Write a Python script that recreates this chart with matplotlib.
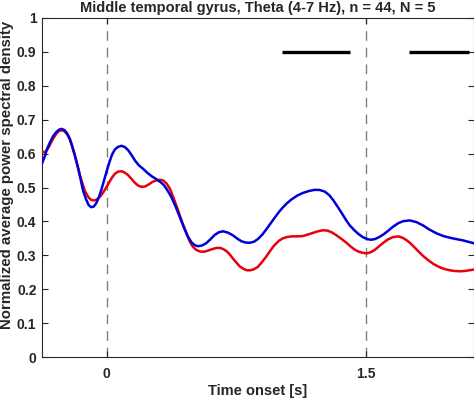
import matplotlib
matplotlib.use('Agg')
import matplotlib.pyplot as plt

plt.rcParams['font.family'] = ['Liberation Sans', 'DejaVu Sans']
plt.rcParams['font.weight'] = 'bold'

# blue curve (time [s], normalized PSD)
t_blue = [-0.375, -0.36, -0.348, -0.33, -0.31, -0.29, -0.275, -0.261, -0.245, -0.23,
          -0.215, -0.2, -0.185, -0.165, -0.15, -0.137, -0.12, -0.105, -0.09, -0.075,
          -0.06, -0.045, -0.031, -0.015, 0.0, 0.015, 0.03, 0.046, 0.065, 0.085,
          0.105, 0.125, 0.145, 0.165, 0.186, 0.21, 0.235, 0.26, 0.285, 0.31,
          0.33, 0.35, 0.373, 0.395, 0.421, 0.445, 0.469, 0.49, 0.508, 0.527,
          0.55, 0.575, 0.6, 0.623, 0.647, 0.671, 0.7, 0.729, 0.755, 0.777,
          0.8, 0.825, 0.85, 0.873, 0.9, 0.921, 0.945, 0.969, 0.995, 1.017,
          1.04, 1.065, 1.1, 1.133, 1.17, 1.2, 1.229, 1.26, 1.287, 1.31,
          1.335, 1.36, 1.383, 1.405, 1.431, 1.455, 1.479, 1.505, 1.527, 1.55,
          1.575, 1.6, 1.625, 1.656, 1.685, 1.715, 1.752, 1.79, 1.829, 1.865,
          1.906, 1.945, 1.983, 2.02, 2.06, 2.09, 2.12]
v_blue = [0.571, 0.59, 0.611, 0.632, 0.652, 0.665, 0.671, 0.673, 0.669, 0.66,
          0.645, 0.622, 0.595, 0.555, 0.52, 0.49, 0.465, 0.448, 0.442, 0.444,
          0.455, 0.473, 0.495, 0.523, 0.55, 0.575, 0.597, 0.612, 0.62, 0.623,
          0.619, 0.609, 0.594, 0.578, 0.565, 0.555, 0.543, 0.533, 0.525, 0.516,
          0.507, 0.492, 0.472, 0.447, 0.414, 0.383, 0.355, 0.338, 0.33, 0.327,
          0.329, 0.336, 0.348, 0.36, 0.368, 0.371, 0.367, 0.359, 0.349, 0.342,
          0.338, 0.337, 0.34, 0.348, 0.362, 0.376, 0.393, 0.41, 0.428, 0.441,
          0.453, 0.464, 0.476, 0.484, 0.49, 0.493, 0.493, 0.488, 0.477, 0.462,
          0.443, 0.423, 0.404, 0.388, 0.374, 0.363, 0.354, 0.348, 0.346, 0.348,
          0.354, 0.362, 0.372, 0.385, 0.395, 0.401, 0.403, 0.398, 0.388, 0.376,
          0.365, 0.357, 0.352, 0.348, 0.344, 0.34, 0.336]

# red curve
t_red = [-0.375, -0.36, -0.348, -0.33, -0.31, -0.29, -0.275, -0.261, -0.245, -0.23,
         -0.215, -0.2, -0.185, -0.17, -0.156, -0.14, -0.127, -0.11, -0.095, -0.08,
         -0.065, -0.05, -0.03, -0.012, 0.01, 0.027, 0.045, 0.065, 0.085, 0.1,
         0.12, 0.14, 0.16, 0.18, 0.2, 0.22, 0.245, 0.265, 0.285, 0.305,
         0.325, 0.345, 0.364, 0.385, 0.411, 0.435, 0.46, 0.48, 0.498, 0.517,
         0.54, 0.565, 0.59, 0.613, 0.635, 0.655, 0.675, 0.695, 0.71, 0.73,
         0.75, 0.767, 0.79, 0.81, 0.83, 0.85, 0.873, 0.895, 0.921, 0.945,
         0.969, 0.995, 1.017, 1.04, 1.07, 1.1, 1.133, 1.16, 1.19, 1.22,
         1.25, 1.275, 1.3, 1.325, 1.355, 1.383, 1.41, 1.43, 1.45, 1.475,
         1.498, 1.52, 1.546, 1.57, 1.598, 1.625, 1.655, 1.685, 1.71, 1.735,
         1.752, 1.78, 1.805, 1.829, 1.86, 1.89, 1.92, 1.95, 1.983, 2.01,
         2.041, 2.07, 2.095, 2.12]
v_red = [0.606, 0.604, 0.609, 0.625, 0.645, 0.66, 0.667, 0.669, 0.666, 0.657,
         0.643, 0.62, 0.594, 0.565, 0.537, 0.51, 0.49, 0.474, 0.465, 0.462,
         0.463, 0.468, 0.479, 0.493, 0.512, 0.527, 0.54, 0.547, 0.548, 0.545,
         0.538, 0.527, 0.515, 0.506, 0.502, 0.503, 0.51, 0.517, 0.521, 0.523,
         0.521, 0.512, 0.497, 0.47, 0.434, 0.398, 0.365, 0.34, 0.325, 0.316,
         0.311, 0.311, 0.315, 0.319, 0.322, 0.322, 0.318, 0.311, 0.303, 0.29,
         0.278, 0.268, 0.26, 0.256, 0.256, 0.259, 0.266, 0.279, 0.296, 0.314,
         0.33, 0.343, 0.35, 0.354, 0.356, 0.356, 0.357, 0.361, 0.366, 0.371,
         0.374, 0.373, 0.368, 0.36, 0.349, 0.338, 0.326, 0.318, 0.312, 0.308,
         0.306, 0.308, 0.315, 0.325, 0.337, 0.347, 0.354, 0.356, 0.352, 0.344,
         0.337, 0.323, 0.31, 0.298, 0.285, 0.274, 0.266, 0.26, 0.256, 0.254,
         0.253, 0.254, 0.256, 0.258]

# significance bars
sig_start = [1.01, 1.748]
sig_end = [1.408, 2.095]
sig_level = 0.9

events = [0, 1.5]
xticks = [0, 1.5]
xticklabels = ['0', '1.5']
yticks = [0, 0.1, 0.2, 0.3, 0.4, 0.5, 0.6, 0.7, 0.8, 0.9, 1]
yticklabels = ['0', '0.1', '0.2', '0.3', '0.4', '0.5', '0.6', '0.7', '0.8', '0.9', '1']

fig = plt.figure(figsize=(4.74, 3.99), dpi=100)
ax = fig.add_axes([0.0886, 0.105, 0.9104, 0.85])

for e in events:
    ax.axvline(e, color='#808080', lw=1.0, dashes=(7, 5), zorder=1)

ax.plot(t_red, v_red, color='#e8000b', lw=1.8, zorder=3)
ax.plot(t_blue, v_blue, color='#0000d8', lw=1.8, zorder=4)

for s, e in zip(sig_start, sig_end):
    ax.plot([s, e], [sig_level, sig_level], color='black', lw=2.4, solid_capstyle='butt', zorder=5)

ax.set_xlim(-0.375, 2.12)
ax.set_ylim(0, 1)
ax.set_xticks(xticks)
ax.set_xticklabels(xticklabels)
ax.set_yticks(yticks)
ax.set_yticklabels(yticklabels)
ax.tick_params(direction='in', length=4, width=0.8, colors='#262626',
               labelsize=10, top=True, right=True)
ax.tick_params(axis='y', pad=4)
ax.tick_params(axis='x', pad=7)
for sp in ax.spines.values():
    sp.set_color('#262626')
    sp.set_linewidth(0.8)

ax.set_title('Middle temporal gyrus, Theta (4-7 Hz), n = 44, N = 5',
             fontsize=10.5, fontweight='bold', color='#262626', pad=4)
ax.set_xlabel('Time onset [s]', fontsize=10.5, fontweight='bold', color='#262626', labelpad=2)
ax.set_ylabel('Normalized average power spectral density', fontsize=10.8,
              fontweight='bold', color='#262626')
ax.yaxis.set_label_coords(-0.064, 0.537)

fig.savefig('out.png', dpi=100)
